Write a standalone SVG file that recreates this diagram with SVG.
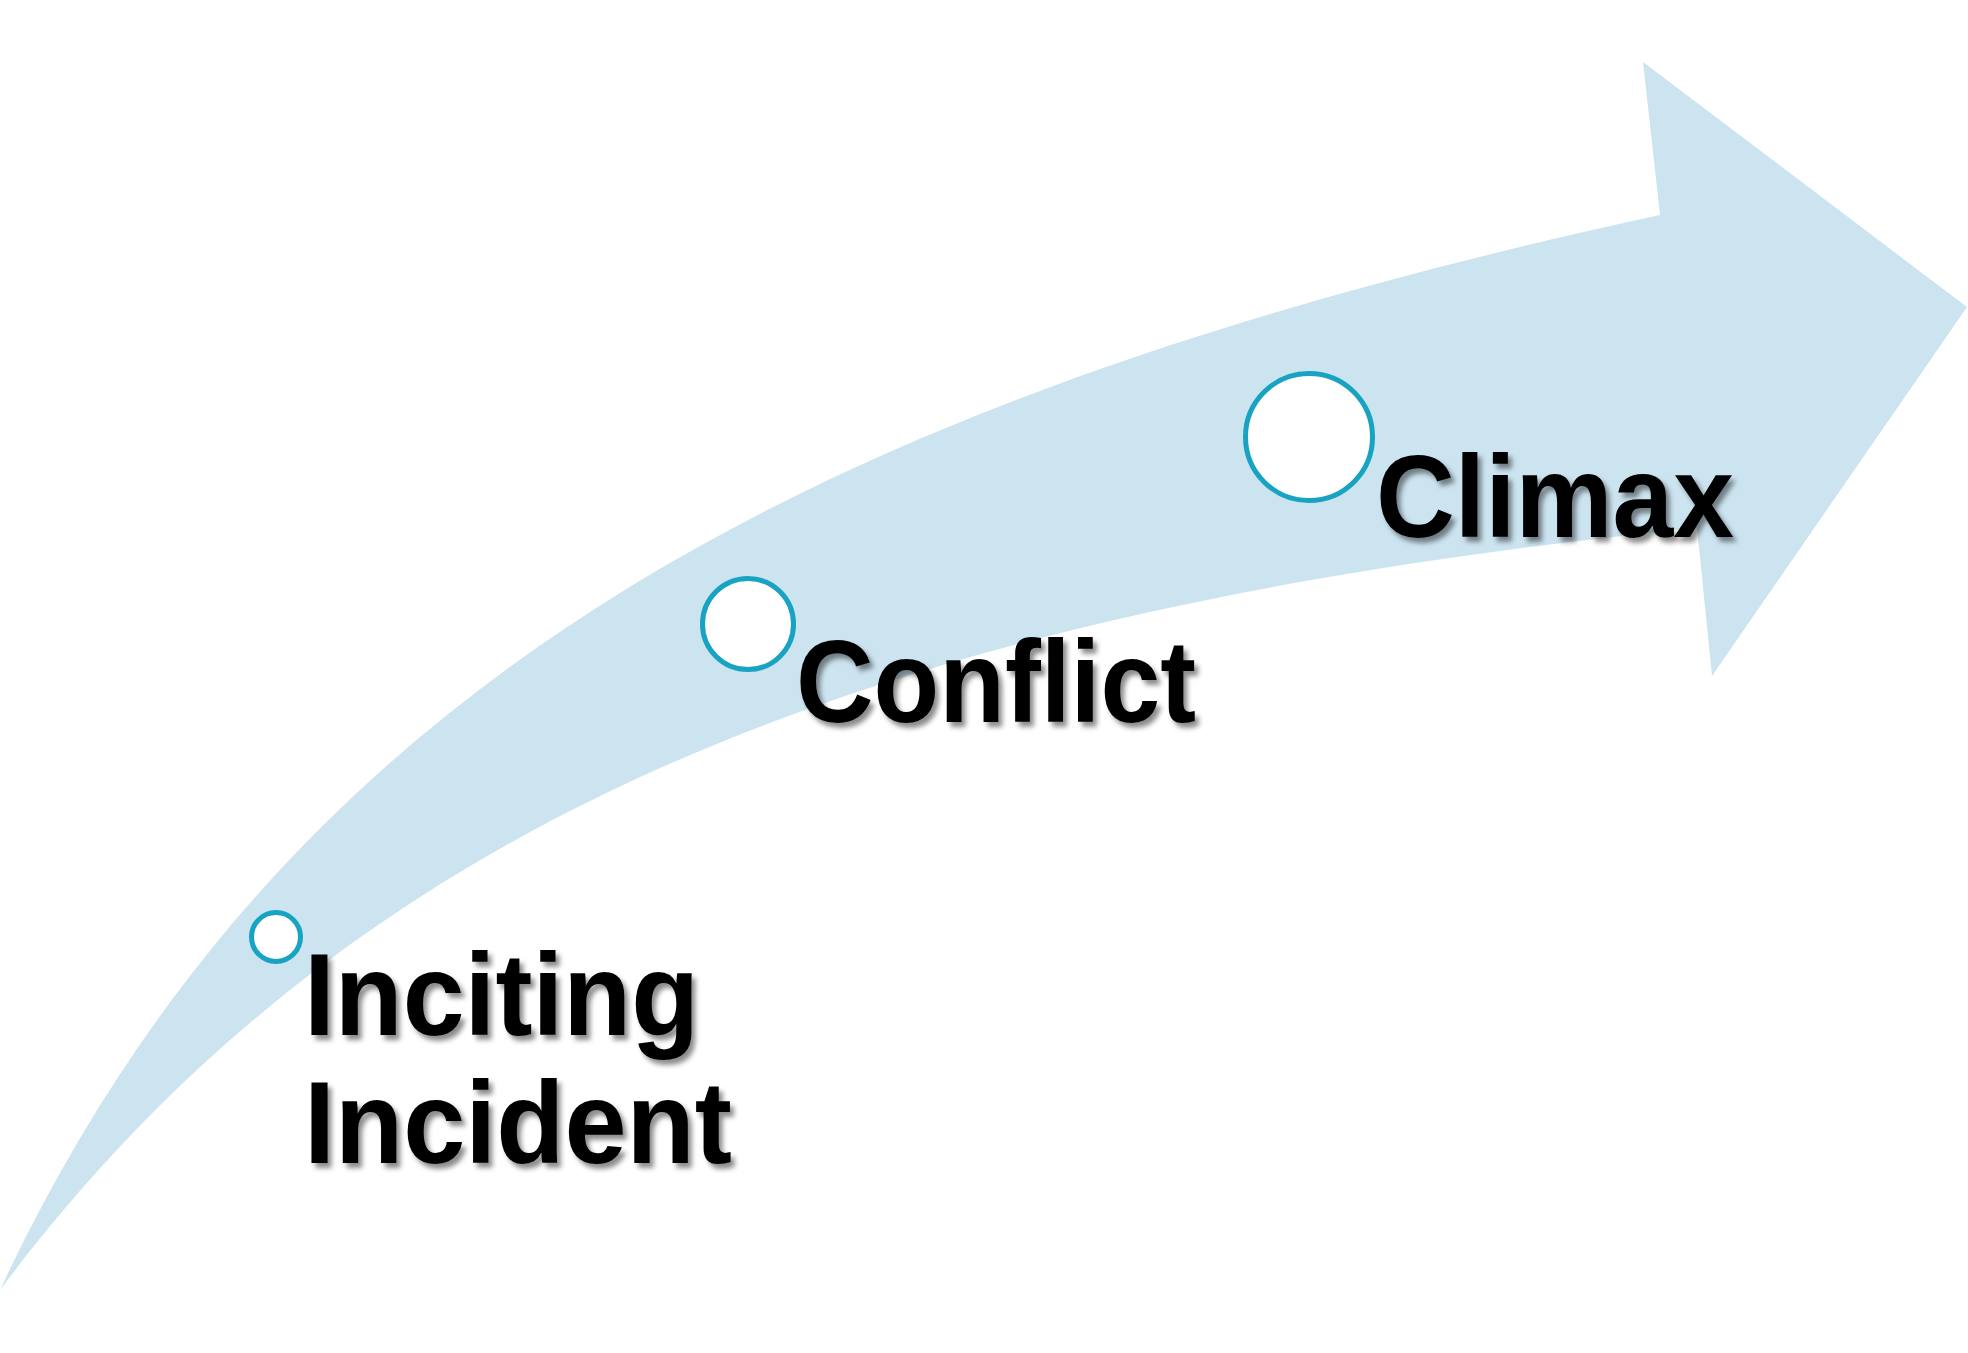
<svg xmlns="http://www.w3.org/2000/svg" width="1968" height="1353" viewBox="0 0 1968 1353">
  <defs>
    <filter id="shadow" x="-10%" y="-20%" width="120%" height="140%">
      <feDropShadow dx="4" dy="5" stdDeviation="2.5" flood-color="#000" flood-opacity="0.45"/>
    </filter>
  </defs>
  <style>
    .band { fill: #CCE4F0; stroke: none; }
    .dot { fill: #FFFFFF; stroke: #17A3C1; stroke-width: 5; }
    .lbl { font-family: "Liberation Sans", Arial, sans-serif; font-weight: bold; font-size: 116px; fill: #000000; filter: url(#shadow); }
  </style>
  <rect x="0" y="0" width="1968" height="1353" fill="#FFFFFF"/>
  <g id="connectors">
    <path class="band" d="M0,1290 C288,674 827,396 1660,215 L1643,62 L1967,307 L1712,676 L1697,528 C885,610 360,810 0,1290 Z"/>
  </g>
  <g id="node-inciting-incident">
    <circle class="dot" cx="276" cy="937" r="24.5"/>
    <text class="lbl" x="304" y="1035" textLength="395" lengthAdjust="spacingAndGlyphs">Inciting</text>
    <text class="lbl" x="304" y="1163" textLength="428" lengthAdjust="spacingAndGlyphs">Incident</text>
  </g>
  <g id="node-conflict">
    <circle class="dot" cx="748" cy="624" r="45.5"/>
    <text class="lbl" x="796" y="722" textLength="400" lengthAdjust="spacingAndGlyphs">Conflict</text>
  </g>
  <g id="node-climax">
    <circle class="dot" cx="1309" cy="437" r="63.5"/>
    <text class="lbl" x="1376" y="537" textLength="358" lengthAdjust="spacingAndGlyphs">Climax</text>
  </g>
</svg>
